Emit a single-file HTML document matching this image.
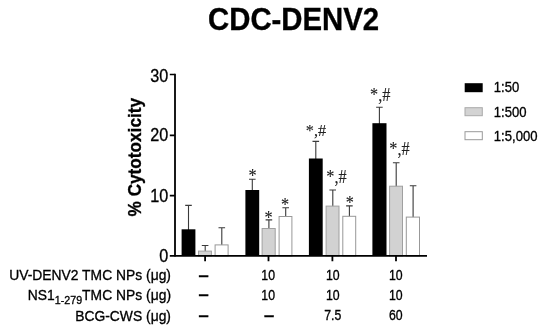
<!DOCTYPE html>
<html><head><meta charset="utf-8"><title>CDC-DENV2</title>
<style>
html,body{margin:0;padding:0;background:#fff;}
body{width:550px;height:333px;overflow:hidden;}
svg{display:block;}
text{font-family:"Liberation Sans",Arial,sans-serif;fill:#000;stroke:#000;stroke-width:0.3px;}
.ser{font-family:"Liberation Serif","Times New Roman",serif;fill:#222;stroke:#222;stroke-width:0.1px;}
</style></head><body>
<svg width="550" height="333" viewBox="0 0 550 333">
<rect width="550" height="333" fill="#fff"/>
<text transform="translate(293.6 30.0) scale(1.048 1.1)" font-size="28" text-anchor="middle" font-weight="bold">CDC-DENV2</text>
<g stroke="#3a3a3a" stroke-width="1.1" fill="none">
<path d="M188.5 230.3V205.4M185.2 205.4h6.6"/>
<path d="M205.2 252.2V245.5M201.8 245.5h6.6"/>
<path d="M221.8 246.0V227.8M218.5 227.8h6.6"/>
<path d="M252.3 191.0V179.3M249.0 179.3h6.6"/>
<path d="M268.9 229.6V219.9M265.6 219.9h6.6"/>
<path d="M285.7 217.6V207.8M282.4 207.8h6.6"/>
<path d="M315.8 159.5V141.4M312.5 141.4h6.6"/>
<path d="M332.8 207.2V190.0M329.4 190.0h6.6"/>
<path d="M349.4 217.4V205.9M346.1 205.9h6.6"/>
<path d="M379.4 124.2V107.3M376.1 107.3h6.6"/>
<path d="M396.2 187.3V162.70000000000002M392.9 162.70000000000002h6.6"/>
<path d="M413.1 218.2V185.70000000000002M409.8 185.70000000000002h6.6"/>
</g>
<g>
<rect x="181.6" y="229.3" width="13.8" height="26.7" fill="#000"/>
<rect x="198.5" y="251.1" width="12.9" height="4.9" fill="#d2d2d2" stroke="#a0a0a0" stroke-width="1"/>
<rect x="215.1" y="244.9" width="13.0" height="11.1" fill="#fff" stroke="#989898" stroke-width="1"/>
<rect x="245.4" y="190.0" width="13.8" height="66.0" fill="#000"/>
<rect x="262.1" y="228.5" width="13.1" height="27.5" fill="#d2d2d2" stroke="#a0a0a0" stroke-width="1"/>
<rect x="279.1" y="216.5" width="12.8" height="39.5" fill="#fff" stroke="#989898" stroke-width="1"/>
<rect x="308.9" y="158.5" width="13.8" height="97.5" fill="#000"/>
<rect x="326.1" y="206.1" width="12.9" height="49.9" fill="#d2d2d2" stroke="#a0a0a0" stroke-width="1"/>
<rect x="342.8" y="216.3" width="12.9" height="39.7" fill="#fff" stroke="#989898" stroke-width="1"/>
<rect x="372.4" y="123.2" width="14.1" height="132.8" fill="#000"/>
<rect x="389.6" y="186.2" width="12.9" height="69.8" fill="#d2d2d2" stroke="#a0a0a0" stroke-width="1"/>
<rect x="406.3" y="217.1" width="13.2" height="38.9" fill="#fff" stroke="#989898" stroke-width="1"/>
</g>
<g stroke="#000" stroke-width="1.8" fill="none">
<path d="M175 73.7V256.6"/>
<path stroke-width="1.75" d="M169.8 255.9H427"/>
<path stroke-width="1.7" d="M169.8 74.5h5M169.8 135.4h5M169.8 195.7h5"/>
<path stroke-width="1.8" d="M205.1 256v5.3M268.5 256v5.3M332.4 256v5.3M396 256v5.3"/>
</g>
<text transform="translate(168.3 82.0) scale(0.953 1.1)" font-size="17" text-anchor="end">30</text>
<text transform="translate(168.3 141.4) scale(0.953 1.1)" font-size="17" text-anchor="end">20</text>
<text transform="translate(168.3 202.1) scale(0.953 1.1)" font-size="17" text-anchor="end">10</text>
<text transform="translate(168.3 261.9) scale(0.953 1.1)" font-size="17" text-anchor="end">0</text>
<text transform="translate(140.5 157.2) rotate(-90) scale(1 1.08)" text-anchor="middle" font-size="17.2" font-weight="bold">% Cytotoxicity</text>
<text class="ser" transform="translate(252.6 181.5) scale(1.02 1.17)" font-size="16" text-anchor="middle">*</text>
<text class="ser" transform="translate(268.5 224.2) scale(1.02 1.17)" font-size="16" text-anchor="middle">*</text>
<text class="ser" transform="translate(285 211.2) scale(1.02 1.17)" font-size="16" text-anchor="middle">*</text>
<text class="ser" transform="translate(316 135.5) scale(1.02 1.09)" font-size="16" text-anchor="middle">*,#</text>
<text class="ser" transform="translate(336.5 182.8) scale(1.02 1.17)" font-size="16" text-anchor="middle">*,#</text>
<text class="ser" transform="translate(349.8 208.7) scale(1.02 1.17)" font-size="16" text-anchor="middle">*</text>
<text class="ser" transform="translate(380.2 101.3) scale(1.02 1.17)" font-size="16" text-anchor="middle">*,#</text>
<text class="ser" transform="translate(399.5 154.8) scale(1.02 1.17)" font-size="16" text-anchor="middle">*,#</text>
<rect x="464.7" y="83.2" width="18" height="9" fill="#000"/>
<rect x="465" y="107.7" width="17.3" height="8" fill="#d3d3d3" stroke="#aaa" stroke-width="1"/>
<rect x="465" y="131.7" width="17.3" height="8" fill="#fff" stroke="#999" stroke-width="1"/>
<text transform="translate(493.8 92.4) scale(1 1.14)" font-size="13.1" text-anchor="start">1:50</text>
<text transform="translate(493.8 117.1) scale(1 1.14)" font-size="13.1" text-anchor="start">1:500</text>
<text transform="translate(493.8 140.5) scale(1 1.14)" font-size="13.1" text-anchor="start">1:5,000</text>
<text transform="translate(171 280.0) scale(1 1.1)" font-size="13.87" text-anchor="end">UV-DENV2 TMC NPs (μg)</text>
<text transform="translate(171 300.2) scale(1 1.1)" font-size="13.87" text-anchor="end">NS1<tspan font-size="10.7" dy="3.4">1-279</tspan><tspan dy="-3.4">TMC NPs (μg)</tspan></text>
<text transform="translate(171 320.8) scale(1 1.1)" font-size="13.87" text-anchor="end">BCG-CWS (μg)</text>
<text transform="translate(203.7 282.3) scale(1 1.3)" font-size="16.5" text-anchor="middle">–</text>
<text transform="translate(203.7 301.0) scale(1 1.3)" font-size="16.5" text-anchor="middle">–</text>
<text transform="translate(203.7 321.5) scale(1 1.3)" font-size="16.5" text-anchor="middle">–</text>
<text transform="translate(268.2 280.4) scale(1 1.2)" font-size="12.3" text-anchor="middle">10</text>
<text transform="translate(268.2 300.1) scale(1 1.2)" font-size="12.3" text-anchor="middle">10</text>
<text transform="translate(269.2 321.5) scale(1 1.3)" font-size="16.5" text-anchor="middle">–</text>
<text transform="translate(332.8 280.4) scale(1 1.2)" font-size="12.3" text-anchor="middle">10</text>
<text transform="translate(332.8 300.1) scale(1 1.2)" font-size="12.3" text-anchor="middle">10</text>
<text transform="translate(332.8 320.2) scale(1 1.2)" font-size="12.3" text-anchor="middle">7.5</text>
<text transform="translate(395.8 280.4) scale(1 1.2)" font-size="12.3" text-anchor="middle">10</text>
<text transform="translate(395.8 300.1) scale(1 1.2)" font-size="12.3" text-anchor="middle">10</text>
<text transform="translate(395.8 320.2) scale(1 1.2)" font-size="12.3" text-anchor="middle">60</text>
</svg>
</body></html>
